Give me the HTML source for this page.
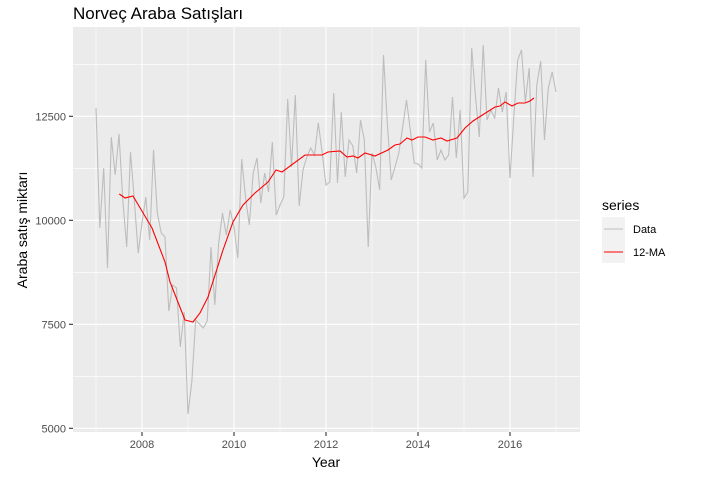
<!DOCTYPE html>
<html><head><meta charset="utf-8"><style>html,body{margin:0;padding:0;background:#fff}</style></head>
<body>
<svg width="706" height="476" xmlns="http://www.w3.org/2000/svg" font-family="Liberation Sans, Arial, sans-serif">
<rect width="706" height="476" fill="#fff"/>
<rect x="73" y="27" width="507" height="405" fill="#EBEBEB"/>
<g stroke="#fff" stroke-width="0.55">
<line x1="73" x2="580" y1="64.3" y2="64.3"/><line x1="73" x2="580" y1="168.3" y2="168.3"/><line x1="73" x2="580" y1="272.3" y2="272.3"/><line x1="73" x2="580" y1="376.3" y2="376.3"/>
<line y1="27" y2="432" x1="96" x2="96"/><line y1="27" y2="432" x1="188" x2="188"/><line y1="27" y2="432" x1="280" x2="280"/><line y1="27" y2="432" x1="372" x2="372"/><line y1="27" y2="432" x1="464" x2="464"/><line y1="27" y2="432" x1="556" x2="556"/>
</g>
<g stroke="#fff" stroke-width="1.1">
<line x1="73" x2="580" y1="116.3" y2="116.3"/><line x1="73" x2="580" y1="220.3" y2="220.3"/><line x1="73" x2="580" y1="324.3" y2="324.3"/><line x1="73" x2="580" y1="428.3" y2="428.3"/>
<line y1="27" y2="432" x1="142" x2="142"/><line y1="27" y2="432" x1="234" x2="234"/><line y1="27" y2="432" x1="326" x2="326"/><line y1="27" y2="432" x1="418" x2="418"/><line y1="27" y2="432" x1="510" x2="510"/>
</g>
<polyline id="d" fill="none" stroke="#BDBDBD" stroke-width="1.1" points=""/>
<polyline fill="none" stroke="#FF0000" stroke-width="1.1" points="119.3,194 125,198 133,196 152,228 165,262 170,282 185,320 193,322 200,313 208,297 223,250 233,222 243,205 255,193 268,182 276,170 282,172 305,155 313,155 322,155 328,152 340,151 347,157 353,156 358,158 365,153 375,156 388,150 395,145 400,144 407,138 412,140 418,137 425,137 433,140 441,138 447,141 457,138 465,128 473,121 495,107 500,106 505,102 512,106 518,103 525,103 530,101 534,98"/>
<g stroke="#333" stroke-width="1.1">
<line x1="69" x2="73" y1="116.3" y2="116.3"/><line x1="69" x2="73" y1="220.3" y2="220.3"/><line x1="69" x2="73" y1="324.3" y2="324.3"/><line x1="69" x2="73" y1="428.3" y2="428.3"/>
<line y1="432" y2="436" x1="142" x2="142"/><line y1="432" y2="436" x1="234" x2="234"/><line y1="432" y2="436" x1="326" x2="326"/><line y1="432" y2="436" x1="418" x2="418"/><line y1="432" y2="436" x1="510" x2="510"/>
</g>
<g font-size="11" fill="#4D4D4D" text-anchor="end">
<text x="66" y="120.3">12500</text><text x="66" y="224.3">10000</text><text x="66" y="328.3">7500</text><text x="66" y="432.3">5000</text>
</g>
<g font-size="11" fill="#4D4D4D" text-anchor="middle">
<text x="142" y="448">2008</text><text x="234" y="448">2010</text><text x="326" y="448">2012</text><text x="418" y="448">2014</text><text x="510" y="448">2016</text>
</g>
<text x="326" y="467" font-size="14" text-anchor="middle">Year</text>
<text transform="translate(27,230) rotate(-90)" font-size="14" text-anchor="middle">Araba satış miktarı</text>
<text x="73" y="19" font-size="17">Norveç Araba Satışları</text>
<text x="602" y="210" font-size="14">series</text>
<rect x="602" y="217" width="23" height="46" fill="#F2F2F2"/>
<line x1="604" x2="623" y1="229" y2="229" stroke="#BDBDBD" stroke-width="1.1"/>
<line x1="604" x2="623" y1="252" y2="252" stroke="#FF0000" stroke-width="1.1"/>
<text x="633" y="233" font-size="11">Data</text>
<text x="633" y="256" font-size="11">12-MA</text>
<script>
var y=[108,228,168,268,137,175,134,200,247,152,200,253,223,197,240,150,213,233,237,311,285,288,347,312,414,382,320,324,328,321,247,305,243,213,235,210,227,258,159,197,225,173,158,203,173,192,142,215,205,197,99,167,95,206,170,157,148,155,123,153,185,182,93,183,112,177,140,146,173,120,140,247,153,167,190,55,123,180,167,153,127,100,130,163,164,168,60,132,123,160,150,160,155,97,158,110,198,192,48,97,137,45,120,110,118,88,112,92,178,117,60,50,102,68,177,85,61,140,88,72,92];
document.getElementById('d').setAttribute('points',y.map(function(v,i){return (96+i*46/12).toFixed(1)+','+v}).join(' '));
</script>
</svg>
</body></html>
